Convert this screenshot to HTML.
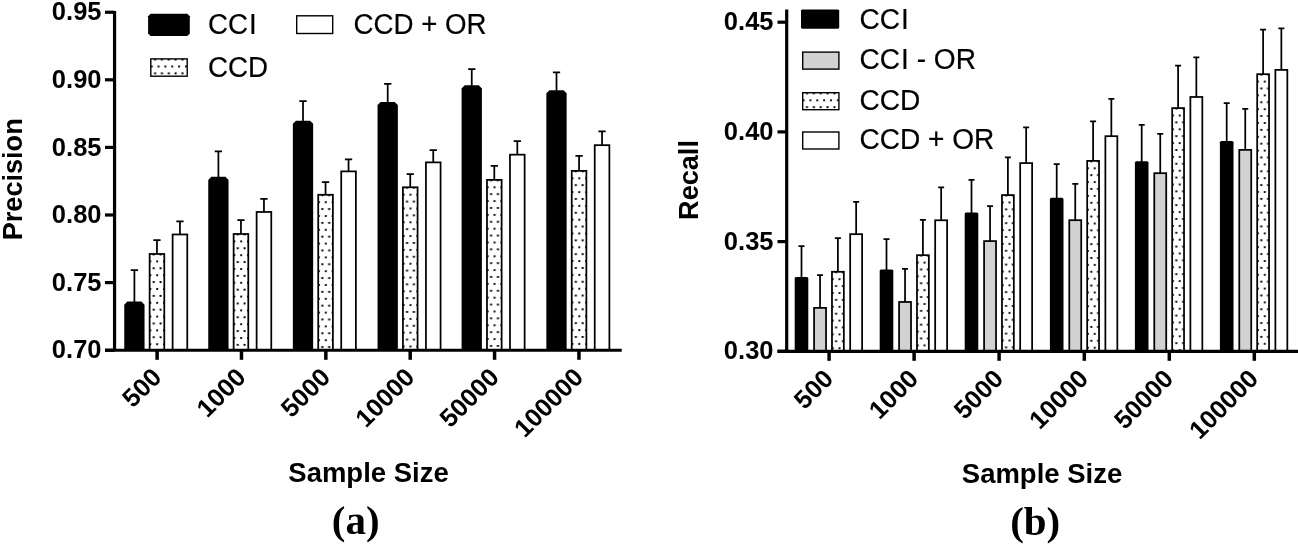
<!DOCTYPE html>
<html><head><meta charset="utf-8"><title>Precision and Recall vs Sample Size</title>
<style>
html,body{margin:0;padding:0;background:#fff;}
body{width:1298px;height:545px;overflow:hidden;}
svg{display:block;}
text{font-family:"Liberation Sans",Arial,Helvetica,sans-serif;fill:#000;}
.b{font-weight:bold;}
.tk{font-weight:bold;font-size:25.5px;}
.lg{font-size:28.8px;stroke:#000;stroke-width:0.2px;}
.lgb{font-size:29.2px;stroke:#000;stroke-width:0.2px;}
.ax{font-weight:bold;font-size:28.4px;}
.cap{font-family:"Liberation Serif","Times New Roman",serif;font-weight:bold;font-size:41px;}
</style></head><body>
<svg width="1298" height="545" viewBox="0 0 1298 545">
<defs>
<pattern id="dots" patternUnits="userSpaceOnUse" x="0.55" y="0.4" width="6.85" height="13.8">
<rect x="0" y="0" width="6.85" height="13.8" fill="#fff"/>
<rect x="3.45" y="0" width="2" height="2" rx="0.4" fill="#000"/>
<rect x="0" y="6.9" width="2" height="2" rx="0.4" fill="#000"/>
</pattern>
<clipPath id="ca"><rect x="0" y="0" width="650" height="350.25"/></clipPath>
<clipPath id="cb"><rect x="650" y="0" width="648" height="351.3"/></clipPath>
</defs>
<rect width="1298" height="545" fill="#fff"/>

<g id="chart-a"><g clip-path="url(#ca)">
<path d="M134.40 270.23V302.60M130.75 270.23H138.05" stroke="#000" stroke-width="1.75" fill="none"/>
<path d="M124.25 350.25V304.70L127.35 301.60H141.45L144.55 304.70V350.25Z" fill="#000"/>
<path d="M156.95 240.22V254.10M153.30 240.22H160.60" stroke="#000" stroke-width="1.75" fill="none"/>
<g transform="translate(148.75 253.10)"><rect x="0.88" y="0.88" width="14.65" height="97.15" fill="url(#dots)" stroke="#000" stroke-width="1.75"/></g>
<path d="M179.95 221.47V234.60M176.30 221.47H183.60" stroke="#000" stroke-width="1.75" fill="none"/>
<rect x="172.62" y="234.47" width="14.65" height="116.65" fill="#fff" stroke="#000" stroke-width="1.75"/>
<path d="M218.40 151.47V177.85M214.75 151.47H222.05" stroke="#000" stroke-width="1.75" fill="none"/>
<path d="M208.25 350.25V179.95L211.35 176.85H225.45L228.55 179.95V350.25Z" fill="#000"/>
<path d="M240.95 220.22V234.10M237.30 220.22H244.60" stroke="#000" stroke-width="1.75" fill="none"/>
<g transform="translate(232.75 233.10)"><rect x="0.88" y="0.88" width="14.65" height="117.15" fill="url(#dots)" stroke="#000" stroke-width="1.75"/></g>
<path d="M263.95 198.97V212.10M260.30 198.97H267.60" stroke="#000" stroke-width="1.75" fill="none"/>
<rect x="256.62" y="211.97" width="14.65" height="139.15" fill="#fff" stroke="#000" stroke-width="1.75"/>
<path d="M303.00 101.07V121.70M299.35 101.07H306.65" stroke="#000" stroke-width="1.75" fill="none"/>
<path d="M292.85 350.25V123.80L295.95 120.70H310.05L313.15 123.80V350.25Z" fill="#000"/>
<path d="M325.55 182.17V194.90M321.90 182.17H329.20" stroke="#000" stroke-width="1.75" fill="none"/>
<g transform="translate(317.35 193.90)"><rect x="0.88" y="0.88" width="14.65" height="156.35" fill="url(#dots)" stroke="#000" stroke-width="1.75"/></g>
<path d="M348.55 159.28V171.50M344.90 159.28H352.20" stroke="#000" stroke-width="1.75" fill="none"/>
<rect x="341.23" y="171.38" width="14.65" height="179.75" fill="#fff" stroke="#000" stroke-width="1.75"/>
<path d="M387.70 83.88V103.00M384.05 83.88H391.35" stroke="#000" stroke-width="1.75" fill="none"/>
<path d="M377.55 350.25V105.10L380.65 102.00H394.75L397.85 105.10V350.25Z" fill="#000"/>
<path d="M410.25 174.17V187.40M406.60 174.17H413.90" stroke="#000" stroke-width="1.75" fill="none"/>
<g transform="translate(402.05 186.40)"><rect x="0.88" y="0.88" width="14.65" height="163.85" fill="url(#dots)" stroke="#000" stroke-width="1.75"/></g>
<path d="M433.25 150.07V162.50M429.60 150.07H436.90" stroke="#000" stroke-width="1.75" fill="none"/>
<rect x="425.93" y="162.38" width="14.65" height="188.75" fill="#fff" stroke="#000" stroke-width="1.75"/>
<path d="M471.75 69.07V86.30M468.10 69.07H475.40" stroke="#000" stroke-width="1.75" fill="none"/>
<path d="M461.60 350.25V88.40L464.70 85.30H478.80L481.90 88.40V350.25Z" fill="#000"/>
<path d="M494.30 165.78V180.00M490.65 165.78H497.95" stroke="#000" stroke-width="1.75" fill="none"/>
<g transform="translate(486.10 179.00)"><rect x="0.88" y="0.88" width="14.65" height="171.25" fill="url(#dots)" stroke="#000" stroke-width="1.75"/></g>
<path d="M517.30 141.07V154.80M513.65 141.07H520.95" stroke="#000" stroke-width="1.75" fill="none"/>
<rect x="509.98" y="154.67" width="14.65" height="196.45" fill="#fff" stroke="#000" stroke-width="1.75"/>
<path d="M556.50 72.27V91.20M552.85 72.27H560.15" stroke="#000" stroke-width="1.75" fill="none"/>
<path d="M546.35 350.25V93.30L549.45 90.20H563.55L566.65 93.30V350.25Z" fill="#000"/>
<path d="M579.05 155.97V171.00M575.40 155.97H582.70" stroke="#000" stroke-width="1.75" fill="none"/>
<g transform="translate(570.85 170.00)"><rect x="0.88" y="0.88" width="14.65" height="180.25" fill="url(#dots)" stroke="#000" stroke-width="1.75"/></g>
<path d="M602.05 131.38V145.30M598.40 131.38H605.70" stroke="#000" stroke-width="1.75" fill="none"/>
<rect x="594.73" y="145.17" width="14.65" height="205.95" fill="#fff" stroke="#000" stroke-width="1.75"/>
</g>
<path d="M114.55 10.90V351.85M105 350.25H621.7" stroke="#000" stroke-width="3.2" fill="none"/>
<path d="M105 350.25H114.5" stroke="#000" stroke-width="3.2"/>
<text class="tk" x="101.5" y="358.35" text-anchor="end">0.70</text>
<path d="M105 282.60H114.5" stroke="#000" stroke-width="3.2"/>
<text class="tk" x="101.5" y="290.70" text-anchor="end">0.75</text>
<path d="M105 215.00H114.5" stroke="#000" stroke-width="3.2"/>
<text class="tk" x="101.5" y="223.10" text-anchor="end">0.80</text>
<path d="M105 147.40H114.5" stroke="#000" stroke-width="3.2"/>
<text class="tk" x="101.5" y="155.50" text-anchor="end">0.85</text>
<path d="M105 79.80H114.5" stroke="#000" stroke-width="3.2"/>
<text class="tk" x="101.5" y="87.90" text-anchor="end">0.90</text>
<path d="M105 12.25H114.5" stroke="#000" stroke-width="3.2"/>
<text class="tk" x="101.5" y="20.35" text-anchor="end">0.95</text>
<path d="M157.10 350.25V359.8" stroke="#000" stroke-width="3.5"/>
<text class="tk" transform="translate(162.95 378.6) rotate(-45)" text-anchor="end">500</text>
<path d="M241.47 350.25V359.8" stroke="#000" stroke-width="3.5"/>
<text class="tk" transform="translate(247.32 378.6) rotate(-45)" text-anchor="end">1000</text>
<path d="M325.84 350.25V359.8" stroke="#000" stroke-width="3.5"/>
<text class="tk" transform="translate(331.69 378.6) rotate(-45)" text-anchor="end">5000</text>
<path d="M410.21 350.25V359.8" stroke="#000" stroke-width="3.5"/>
<text class="tk" transform="translate(416.06 378.6) rotate(-45)" text-anchor="end">10000</text>
<path d="M494.58 350.25V359.8" stroke="#000" stroke-width="3.5"/>
<text class="tk" transform="translate(500.43 378.6) rotate(-45)" text-anchor="end">50000</text>
<path d="M578.95 350.25V359.8" stroke="#000" stroke-width="3.5"/>
<text class="tk" transform="translate(584.80 378.6) rotate(-45)" text-anchor="end">100000</text>
<text class="ax" transform="translate(368.5 481.7) scale(0.968 1)" text-anchor="middle">Sample Size</text>
<text class="ax" transform="translate(21.6 179.3) rotate(-90) scale(0.955 1)" text-anchor="middle">Precision</text>
<text class="cap" x="355.7" y="534.3" text-anchor="middle">(a)</text>
<path d="M148.1 16.2L150.6 13.7H187.3L189.8 16.2V33.4L187.3 35.9H150.6L148.1 33.4Z" fill="#000"/>
<g transform="translate(150.1 58.2)"><rect x="0.70" y="0.70" width="36.40" height="17.30" fill="url(#dots)" stroke="#000" stroke-width="1.4"/></g>
<rect x="296.70" y="15.80" width="36.00" height="17.70" fill="#fff" stroke="#000" stroke-width="1.4"/>
<text class="lg" transform="translate(207.9 34.3) scale(0.962 1)" dx="0 0 1.2">CCI</text>
<text class="lg" transform="translate(207.9 76.6) scale(0.962 1)">CCD</text>
<text class="lg" transform="translate(353.5 34.3) scale(0.962 1)">CCD + OR</text>
</g>
<g id="chart-b"><g clip-path="url(#cb)">
<path d="M801.50 246.08V278.00M798.50 246.08H804.50" stroke="#000" stroke-width="1.75" fill="none"/>
<path d="M794.70 351.30V278.10L795.80 277.00H807.20L808.30 278.10V351.30Z" fill="#000"/>
<path d="M820.05 275.07V308.00M817.05 275.07H823.05" stroke="#000" stroke-width="1.75" fill="none"/>
<rect x="814.08" y="307.88" width="11.95" height="44.30" fill="#d2d2d2" stroke="#000" stroke-width="1.75"/>
<path d="M837.90 238.08V271.90M834.90 238.08H840.90" stroke="#000" stroke-width="1.75" fill="none"/>
<g transform="translate(831.10 270.90)"><rect x="0.88" y="0.88" width="11.85" height="80.40" fill="url(#dots)" stroke="#000" stroke-width="1.75"/></g>
<path d="M856.15 201.78V234.30M853.15 201.78H859.15" stroke="#000" stroke-width="1.75" fill="none"/>
<rect x="850.17" y="234.18" width="11.95" height="118.00" fill="#fff" stroke="#000" stroke-width="1.75"/>
<path d="M886.50 239.08V270.40M883.50 239.08H889.50" stroke="#000" stroke-width="1.75" fill="none"/>
<path d="M879.70 351.30V270.50L880.80 269.40H892.20L893.30 270.50V351.30Z" fill="#000"/>
<path d="M905.05 268.97V302.10M902.05 268.97H908.05" stroke="#000" stroke-width="1.75" fill="none"/>
<rect x="899.08" y="301.97" width="11.95" height="50.20" fill="#d2d2d2" stroke="#000" stroke-width="1.75"/>
<path d="M922.90 219.78V255.30M919.90 219.78H925.90" stroke="#000" stroke-width="1.75" fill="none"/>
<g transform="translate(916.10 254.30)"><rect x="0.88" y="0.88" width="11.85" height="97.00" fill="url(#dots)" stroke="#000" stroke-width="1.75"/></g>
<path d="M941.15 187.28V220.40M938.15 187.28H944.15" stroke="#000" stroke-width="1.75" fill="none"/>
<rect x="935.17" y="220.28" width="11.95" height="131.90" fill="#fff" stroke="#000" stroke-width="1.75"/>
<path d="M971.50 179.97V213.50M968.50 179.97H974.50" stroke="#000" stroke-width="1.75" fill="none"/>
<path d="M964.70 351.30V213.60L965.80 212.50H977.20L978.30 213.60V351.30Z" fill="#000"/>
<path d="M990.05 206.08V241.20M987.05 206.08H993.05" stroke="#000" stroke-width="1.75" fill="none"/>
<rect x="984.08" y="241.08" width="11.95" height="111.10" fill="#d2d2d2" stroke="#000" stroke-width="1.75"/>
<path d="M1007.90 157.28V195.20M1004.90 157.28H1010.90" stroke="#000" stroke-width="1.75" fill="none"/>
<g transform="translate(1001.10 194.20)"><rect x="0.88" y="0.88" width="11.85" height="157.10" fill="url(#dots)" stroke="#000" stroke-width="1.75"/></g>
<path d="M1026.15 127.38V163.20M1023.15 127.38H1029.15" stroke="#000" stroke-width="1.75" fill="none"/>
<rect x="1020.17" y="163.08" width="11.95" height="189.10" fill="#fff" stroke="#000" stroke-width="1.75"/>
<path d="M1056.70 164.18V198.80M1053.70 164.18H1059.70" stroke="#000" stroke-width="1.75" fill="none"/>
<path d="M1049.90 351.30V198.90L1051.00 197.80H1062.40L1063.50 198.90V351.30Z" fill="#000"/>
<path d="M1075.25 183.88V220.30M1072.25 183.88H1078.25" stroke="#000" stroke-width="1.75" fill="none"/>
<rect x="1069.28" y="220.18" width="11.95" height="132.00" fill="#d2d2d2" stroke="#000" stroke-width="1.75"/>
<path d="M1093.10 121.48V161.00M1090.10 121.48H1096.10" stroke="#000" stroke-width="1.75" fill="none"/>
<g transform="translate(1086.30 160.00)"><rect x="0.88" y="0.88" width="11.85" height="191.30" fill="url(#dots)" stroke="#000" stroke-width="1.75"/></g>
<path d="M1111.35 98.88V136.30M1108.35 98.88H1114.35" stroke="#000" stroke-width="1.75" fill="none"/>
<rect x="1105.38" y="136.18" width="11.95" height="216.00" fill="#fff" stroke="#000" stroke-width="1.75"/>
<path d="M1141.70 124.78V162.30M1138.70 124.78H1144.70" stroke="#000" stroke-width="1.75" fill="none"/>
<path d="M1134.90 351.30V162.40L1136.00 161.30H1147.40L1148.50 162.40V351.30Z" fill="#000"/>
<path d="M1160.25 133.78V173.30M1157.25 133.78H1163.25" stroke="#000" stroke-width="1.75" fill="none"/>
<rect x="1154.28" y="173.18" width="11.95" height="179.00" fill="#d2d2d2" stroke="#000" stroke-width="1.75"/>
<path d="M1178.10 65.68V108.20M1175.10 65.68H1181.10" stroke="#000" stroke-width="1.75" fill="none"/>
<g transform="translate(1171.30 107.20)"><rect x="0.88" y="0.88" width="11.85" height="244.10" fill="url(#dots)" stroke="#000" stroke-width="1.75"/></g>
<path d="M1196.35 57.48V97.10M1193.35 57.48H1199.35" stroke="#000" stroke-width="1.75" fill="none"/>
<rect x="1190.38" y="96.98" width="11.95" height="255.20" fill="#fff" stroke="#000" stroke-width="1.75"/>
<path d="M1226.70 103.18V142.10M1223.70 103.18H1229.70" stroke="#000" stroke-width="1.75" fill="none"/>
<path d="M1219.90 351.30V142.20L1221.00 141.10H1232.40L1233.50 142.20V351.30Z" fill="#000"/>
<path d="M1245.25 108.78V150.00M1242.25 108.78H1248.25" stroke="#000" stroke-width="1.75" fill="none"/>
<rect x="1239.28" y="149.88" width="11.95" height="202.30" fill="#d2d2d2" stroke="#000" stroke-width="1.75"/>
<path d="M1263.10 29.57V74.30M1260.10 29.57H1266.10" stroke="#000" stroke-width="1.75" fill="none"/>
<g transform="translate(1256.30 73.30)"><rect x="0.88" y="0.88" width="11.85" height="278.00" fill="url(#dots)" stroke="#000" stroke-width="1.75"/></g>
<path d="M1281.35 28.27V70.00M1278.35 28.27H1284.35" stroke="#000" stroke-width="1.75" fill="none"/>
<rect x="1275.38" y="69.88" width="11.95" height="282.30" fill="#fff" stroke="#000" stroke-width="1.75"/>
</g>
<path d="M786.7 9.5V352.90M777.5 351.30H1298" stroke="#000" stroke-width="3.2" fill="none"/>
<path d="M777.5 351.30H786.7" stroke="#000" stroke-width="3.2"/>
<text class="tk" x="773.5" y="359.30" text-anchor="end">0.30</text>
<path d="M777.5 241.60H786.7" stroke="#000" stroke-width="3.2"/>
<text class="tk" x="773.5" y="249.60" text-anchor="end">0.35</text>
<path d="M777.5 131.90H786.7" stroke="#000" stroke-width="3.2"/>
<text class="tk" x="773.5" y="139.90" text-anchor="end">0.40</text>
<path d="M777.5 22.20H786.7" stroke="#000" stroke-width="3.2"/>
<text class="tk" x="773.5" y="30.20" text-anchor="end">0.45</text>
<path d="M829.10 351.30V360.8" stroke="#000" stroke-width="3.5"/>
<text class="tk" transform="translate(834.70 380.3) rotate(-45)" text-anchor="end">500</text>
<path d="M914.10 351.30V360.8" stroke="#000" stroke-width="3.5"/>
<text class="tk" transform="translate(919.70 380.3) rotate(-45)" text-anchor="end">1000</text>
<path d="M999.10 351.30V360.8" stroke="#000" stroke-width="3.5"/>
<text class="tk" transform="translate(1004.70 380.3) rotate(-45)" text-anchor="end">5000</text>
<path d="M1084.30 351.30V360.8" stroke="#000" stroke-width="3.5"/>
<text class="tk" transform="translate(1089.90 380.3) rotate(-45)" text-anchor="end">10000</text>
<path d="M1169.30 351.30V360.8" stroke="#000" stroke-width="3.5"/>
<text class="tk" transform="translate(1174.90 380.3) rotate(-45)" text-anchor="end">50000</text>
<path d="M1254.30 351.30V360.8" stroke="#000" stroke-width="3.5"/>
<text class="tk" transform="translate(1259.90 380.3) rotate(-45)" text-anchor="end">100000</text>
<text class="ax" transform="translate(1042 483.0) scale(0.968 1)" text-anchor="middle">Sample Size</text>
<text class="ax" transform="translate(697.6 180) rotate(-90) scale(0.955 1)" text-anchor="middle">Recall</text>
<text class="cap" x="1035.2" y="534.8" text-anchor="middle">(b)</text>
<path d="M801 10.5L802 9.5H838.2L839.2 10.5V27.7L838.2 28.7H802L801 27.7Z" fill="#000"/>
<g transform="translate(802 51.4)"><rect x="0.70" y="0.70" width="36.20" height="17.00" fill="#d2d2d2" stroke="#000" stroke-width="1.4"/></g>
<g transform="translate(802 92.0)"><rect x="0.70" y="0.70" width="36.20" height="17.00" fill="url(#dots)" stroke="#000" stroke-width="1.4"/></g>
<g transform="translate(802 131.3)"><rect x="0.70" y="0.70" width="36.20" height="17.00" fill="#fff" stroke="#000" stroke-width="1.4"/></g>
<text class="lgb" transform="translate(859.4 28.6) scale(0.962 1)" dx="0 0 1.2">CCI</text>
<text class="lgb" transform="translate(859.4 69.0) scale(0.962 1)" dx="0 0 1.2">CCI - OR</text>
<text class="lgb" transform="translate(859.4 109.6) scale(0.962 1)">CCD</text>
<text class="lgb" transform="translate(859.4 149.2) scale(0.962 1)">CCD + OR</text>
</g>
</svg></body></html>
